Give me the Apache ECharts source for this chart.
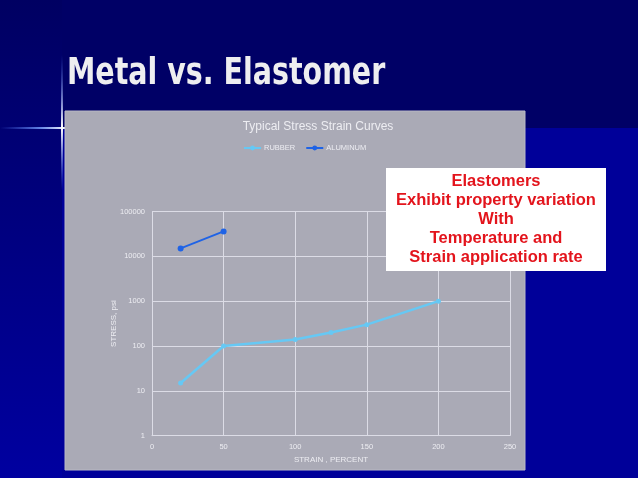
<!DOCTYPE html>
<html>
<head>
<meta charset="utf-8">
<script src="https://cdn.jsdelivr.net/npm/echarts@6/dist/echarts.min.js"></script>
<style>
  html, body { margin: 0; padding: 0; background: #000066; }
  #main { width: 638px; height: 478px; }
</style>
</head>
<body>
<div id="main"></div>
<script>
// data
var rubberStrain = [20, 50, 100, 125, 150, 200]
var rubberStress = [15, 100, 140, 200, 300, 1000]
var aluminumStrain = [20, 50]
var aluminumStress = [15000, 36000]
var noteLines = ['Elastomers', 'Exhibit property variation', 'With', 'Temperature and', 'Strain application rate']

function pairs (xs, ys) {
  return xs.map(function (x, i) { return [x, ys[i]] })
}

var labelColor = '#ededf2'
var gridColor = '#dcdce6'

var chart = echarts.init(document.getElementById('main'))

chart.setOption({
  backgroundColor: '#000066',
  animation: false,
  title: {
    text: 'Typical Stress Strain Curves',
    left: 313,
    top: 116,
    textAlign: 'center',
    textStyle: { color: labelColor, fontSize: 12, fontWeight: 'normal', fontFamily: 'Liberation Sans' }
  },
  legend: {
    left: 238,
    top: 139,
    itemWidth: 17,
    itemHeight: 6,
    itemGap: 10,
    textStyle: { color: labelColor, fontSize: 7.5, fontFamily: 'Liberation Sans', padding: [0, 0, 0, -2] },
    data: ['RUBBER', 'ALUMINUM']
  },
  grid: {
    left: 152,
    top: 211.5,
    right: 128,
    bottom: 42.3
  },
  xAxis: {
    type: 'value',
    min: 0,
    max: 250,
    interval: 50,
    name: 'STRAIN , PERCENT',
    nameLocation: 'middle',
    nameGap: 20,
    nameMoveOverlap: false,
    nameTextStyle: { color: labelColor, fontSize: 8, fontFamily: 'Liberation Sans', verticalAlign: 'top' },
    axisLine: { show: true, lineStyle: { color: gridColor, width: 1 } },
    axisTick: { show: false },
    axisLabel: { color: labelColor, fontSize: 7.5, fontFamily: 'Liberation Sans', margin: 7 },
    splitLine: { show: true, lineStyle: { color: gridColor, width: 1 } }
  },
  yAxis: {
    type: 'log',
    logBase: 10,
    min: 1,
    max: 100000,
    name: 'STRESS, psi',
    nameLocation: 'middle',
    nameGap: 34,
    nameRotate: 90,
    nameMoveOverlap: false,
    nameTextStyle: { color: labelColor, fontSize: 8, fontFamily: 'Liberation Sans' },
    axisLine: { show: true, lineStyle: { color: gridColor, width: 1 } },
    axisTick: { show: false },
    axisLabel: {
      color: labelColor,
      fontSize: 7.5,
      fontFamily: 'Liberation Sans',
      margin: 7,
      formatter: function (v) { return String(Math.round(v)) }
    },
    splitLine: { show: true, lineStyle: { color: gridColor, width: 1 } }
  },
  series: [
    {
      name: 'RUBBER',
      type: 'line',
      data: pairs(rubberStrain, rubberStress),
      symbol: 'circle',
      symbolSize: 5,
      itemStyle: { color: '#66c8f4' },
      lineStyle: { color: '#66c8f4', width: 2.5 },
      z: 3
    },
    {
      name: 'ALUMINUM',
      type: 'line',
      data: pairs(aluminumStrain, aluminumStress),
      symbol: 'circle',
      symbolSize: 6,
      itemStyle: { color: '#1f63e6' },
      lineStyle: { color: '#1f63e6', width: 1.8 },
      z: 3
    }
  ],
  graphic: [
    // left strip, darker at the top
    {
      type: 'rect',
      z: -20,
      shape: { x: 0, y: 0, width: 62, height: 478 },
      style: {
        fill: new echarts.graphic.LinearGradient(0, 0, 0, 1, [
          { offset: 0, color: '#000062' },
          { offset: 1, color: '#0000a0' }
        ])
      }
    },
    // lower blue band
    {
      type: 'rect',
      z: -20,
      shape: { x: 62, y: 128, width: 576, height: 350 },
      style: { fill: '#000099' }
    },
    // starburst
    {
      type: 'rect',
      z: -15,
      shape: { x: 0, y: 127, width: 66, height: 2 },
      style: {
        fill: new echarts.graphic.LinearGradient(0, 0, 1, 0, [
          { offset: 0, color: 'rgba(80,120,255,0)' },
          { offset: 0.6, color: 'rgba(120,160,255,0.8)' },
          { offset: 1, color: '#ffffff' }
        ])
      }
    },
    {
      type: 'rect',
      z: -15,
      shape: { x: 61, y: 55, width: 2, height: 135 },
      style: {
        fill: new echarts.graphic.LinearGradient(0, 0, 0, 1, [
          { offset: 0, color: 'rgba(80,120,255,0)' },
          { offset: 0.54, color: '#ffffff' },
          { offset: 1, color: 'rgba(80,120,255,0)' }
        ])
      }
    },
    // grey chart area
    {
      type: 'rect',
      z: -10,
      shape: { x: 65, y: 111, width: 460, height: 359 },
      style: { fill: '#aaaab6', stroke: '#b8b8c4', lineWidth: 1 }
    },
    // slide title
    {
      type: 'text',
      z: 10,
      x: 67,
      y: 55,
      scaleX: 0.75,
      style: {
        text: 'Metal vs. Elastomer',
        fill: '#eeeef0',
        font: 'bold 38px "DejaVu Sans"',
        shadowColor: 'rgba(0,0,0,0.9)',
        shadowOffsetX: 2,
        shadowOffsetY: 2,
        shadowBlur: 1
      }
    },
    // note box
    {
      type: 'rect',
      z: 20,
      shape: { x: 386, y: 168, width: 220, height: 103 },
      style: { fill: '#ffffff' }
    },
    {
      type: 'text',
      z: 21,
      x: 496,
      y: 172,
      style: {
        text: noteLines.join('\n'),
        fill: '#e3141c',
        font: 'bold 16.5px "Liberation Sans"',
        lineHeight: 19,
        align: 'center'
      }
    }
  ]
})
</script>
</body>
</html>
